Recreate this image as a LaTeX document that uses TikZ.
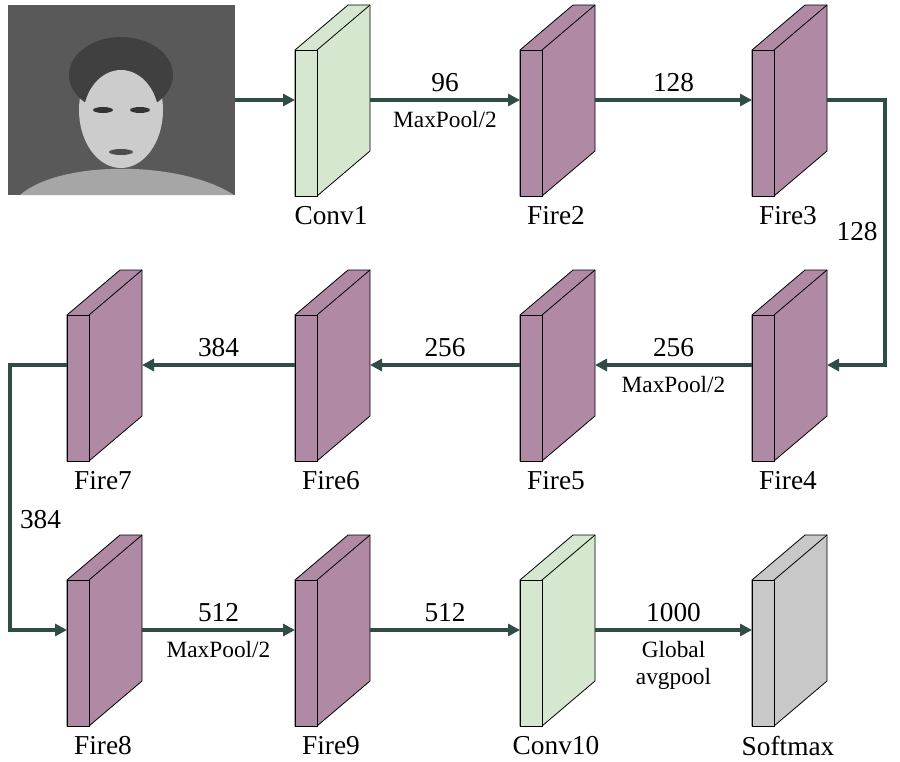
\documentclass[tikz,border=0pt]{standalone}
\usepackage{fontspec}
\setmainfont{Liberation Serif}
\usetikzlibrary{arrows.meta}
\definecolor{cgreen}{HTML}{D5E8CF}
\definecolor{cpurple}{HTML}{B08AA5}
\definecolor{cgray}{HTML}{C8C8C8}
\definecolor{carrow}{HTML}{2F4C47}
% block: name, x, y of front top, colour, label
\newcommand\layerblock[5]{%
  \fill[#4,draw=black,line width=0.6pt] (#2,#3) -- ++(53,-45) -- ++(22,0) -- ++(0,146) -- ++(-53,45) -- ++(-22,0) -- cycle;
  \draw[line width=0.6pt] (#2+22,#3) -- ++(53,-45);
  \node[face,fill=#4] (#1) at (#2+11,#3+73) {};
  \coordinate (#1-in) at (#2,#3+50);
  \coordinate (#1-out) at (#2+75,#3+50);
  \node[lbl] (#1-lbl) at (#2+36,#3+166) {#5};
}
\begin{document}
\begin{tikzpicture}[x=0.75pt,y=-0.75pt,
  face/.style={draw,line width=0.6pt,inner sep=0pt,minimum width=16.5pt,minimum height=109.5pt},
  lbl/.style={font=\fontsize{20.5}{22}\selectfont},
  num/.style={font=\fontsize{20.5}{22}\selectfont},
  sub/.style={font=\fontsize{17.5}{20}\selectfont},
  link/.style={draw=carrow,line width=2.4pt,-{Triangle[length=9pt,width=9pt]}}]
\useasboundingbox (0,0) rectangle (900,761);
% input photo
\node[draw=none,fill=black!65,inner sep=0pt,minimum width=170pt,minimum height=142pt] (img) at (121.5,100) {};
\fill[black!20] (121,110) ellipse (42 and 58);
\fill[black!75] (121,75) ellipse (52 and 38);
\fill[black!20] (121,118) ellipse (38 and 48);
\fill[black!35] (20,195) .. controls (60,160) and (180,160) .. (234,195) -- cycle;
\fill[black!80] (103,110) ellipse (10 and 3);
\fill[black!80] (140,110) ellipse (10 and 3);
\fill[black!70] (121,152) ellipse (12 and 3);
% blocks
\layerblock{c1}{295}{50}{cgreen}{Conv1}
\layerblock{f2}{520}{50}{cpurple}{Fire2}
\layerblock{f3}{752}{50}{cpurple}{Fire3}
\layerblock{f7}{67}{315}{cpurple}{Fire7}
\layerblock{f6}{295}{315}{cpurple}{Fire6}
\layerblock{f5}{520}{315}{cpurple}{Fire5}
\layerblock{f4}{752}{315}{cpurple}{Fire4}
\layerblock{f8}{67}{580}{cpurple}{Fire8}
\layerblock{f9}{295}{580}{cpurple}{Fire9}
\layerblock{c10}{520}{580}{cgreen}{Conv10}
\layerblock{sm}{752}{580}{cgray}{Softmax}
% connectors
\draw[link] (img.east |- c1-in) -- (c1-in);
\draw[link] (c1-out) -- node[num,above=2pt]{96} node[sub,below=4pt]{MaxPool/2} (f2-in);
\draw[link] (f2-out) -- node[num,above=2pt]{128} (f3-in);
\draw[link] (f3-out) -| (885,232) node[num,left=1pt]{128} |- (f4-out);
\draw[link] (f4-in) -- node[num,above=2pt]{256} node[sub,below=4pt]{MaxPool/2} (f5-out);
\draw[link] (f5-in) -- node[num,above=2pt]{256} (f6-out);
\draw[link] (f6-in) -- node[num,above=2pt]{384} (f7-out);
\draw[link] (f7-in) -| (10,520) node[num,right=3pt]{384} |- (f8-in);
\draw[link] (f8-out) -- node[num,above=2pt]{512} node[sub,below=4pt]{MaxPool/2} (f9-in);
\draw[link] (f9-out) -- node[num,above=2pt]{512} (c10-in);
\draw[link] (c10-out) -- node[num,above=2pt]{1000} node[sub,below=4pt,align=center]{Global\\avgpool} (sm-in);
\end{tikzpicture}
\end{document}
